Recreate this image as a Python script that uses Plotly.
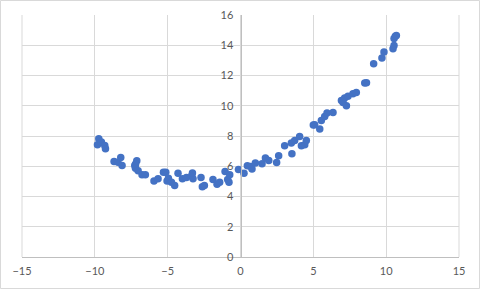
import plotly.graph_objects as go

x_vals = [-9.82, -9.73, -9.55, -9.32, -9.27, -8.68, -8.41, -8.22, -8.13, -7.12, -7.20, -7.26,
          -7.21, -7.03, -6.76, -6.53, -5.94, -5.66, -5.29, -5.13, -5.04, -4.95, -4.74, -4.52,
          -4.29, -3.99, -3.71, -3.35, -3.26, -3.30, -2.71, -2.62, -2.48, -1.89, -1.61, -1.43,
          -1.06, -0.88, -0.74, -0.79, -0.14, 0.24, 0.47, 0.70, 0.79, 1.02, 1.48, 1.71, 1.94,
          2.48, 2.62, 3.03, 3.53, 3.49, 3.72, 4.06, 4.18, 4.41, 4.52, 5.00, 5.09, 5.44, 5.55,
          5.78, 5.94, 6.35, 6.93, 7.04, 7.15, 7.27, 7.38, 7.72, 7.95, 8.53, 8.65, 9.14, 9.71,
          9.85, 10.47, 10.54, 10.54, 10.63, 10.70]
y_vals = [7.42, 7.81, 7.60, 7.37, 7.15, 6.31, 6.27, 6.58, 6.05, 6.36, 6.15, 6.05,
          5.87, 5.70, 5.43, 5.43, 5.03, 5.17, 5.61, 5.61, 5.03, 5.20, 4.95, 4.72,
          5.54, 5.17, 5.25, 5.38, 5.17, 5.55, 5.25, 4.64, 4.72, 5.12, 4.81, 4.95,
          5.65, 5.12, 5.43, 4.95, 5.78, 5.54, 6.03, 5.98, 5.81, 6.21, 6.16, 6.54, 6.38,
          6.25, 6.69, 7.35, 6.82, 7.53, 7.70, 7.97, 7.35, 7.42, 7.70, 8.72, 8.74, 8.46, 9.03,
          9.29, 9.52, 9.56, 10.35, 10.22, 10.51, 10.00, 10.62, 10.79, 10.88, 11.50, 11.52, 12.78, 13.16,
          13.56, 13.77, 13.99, 14.44, 14.59, 14.65]
x_ticks = [-15, -10, -5, 0, 5, 10, 15]
y_ticks = [0, 2, 4, 6, 8, 10, 12, 14, 16]

W, H = 480, 289
L, R, T, B = 22, 21, 15, 32
pw, ph = W - L - R, H - T - B

fig = go.Figure(go.Scatter(
    x=x_vals, y=y_vals, mode="markers",
    marker=dict(color="#4472C4", size=7.5, line=dict(width=0)),
    cliponaxis=False,
))

font = dict(family="Lato, Liberation Sans, sans-serif", size=11, color="#595959")
fig.update_layout(
    width=W, height=H,
    margin=dict(l=L, r=R, t=T, b=B, pad=0),
    paper_bgcolor="white", plot_bgcolor="white",
    showlegend=False,
    font=font,
    xaxis=dict(range=[-15, 15], tickvals=x_ticks, showgrid=True, gridcolor="#d9d9d9",
               gridwidth=1, zeroline=False, showline=True, linecolor="#bfbfbf",
               ticks="", tickfont=font, automargin=False, mirror=False,
               ticklabelstandoff=4),
    yaxis=dict(range=[0, 16], tickvals=y_ticks, showgrid=True, gridcolor="#d9d9d9",
               gridwidth=1, zeroline=False, showline=True, linecolor="#bfbfbf",
               anchor="free", position=0.5, ticks="", tickfont=font,
               automargin=False, ticklabelstandoff=5),
    shapes=[
        dict(type="rect", xref="paper", yref="paper",
             x0=(0.5 - L) / pw, x1=(W - 0.5 - L) / pw,
             y0=(ph + T - (H - 0.5)) / ph, y1=(ph + T - 0.5) / ph,
             line=dict(color="#d9d9d9", width=1), layer="below"),
        dict(type="line", xref="paper", yref="paper", x0=0, x1=0, y0=0, y1=1,
             line=dict(color="#d9d9d9", width=1), layer="below"),
        dict(type="line", xref="paper", yref="paper", x0=1, x1=1, y0=0, y1=1,
             line=dict(color="#d9d9d9", width=1), layer="below"),
    ],
)
fig.write_html("out.html")
